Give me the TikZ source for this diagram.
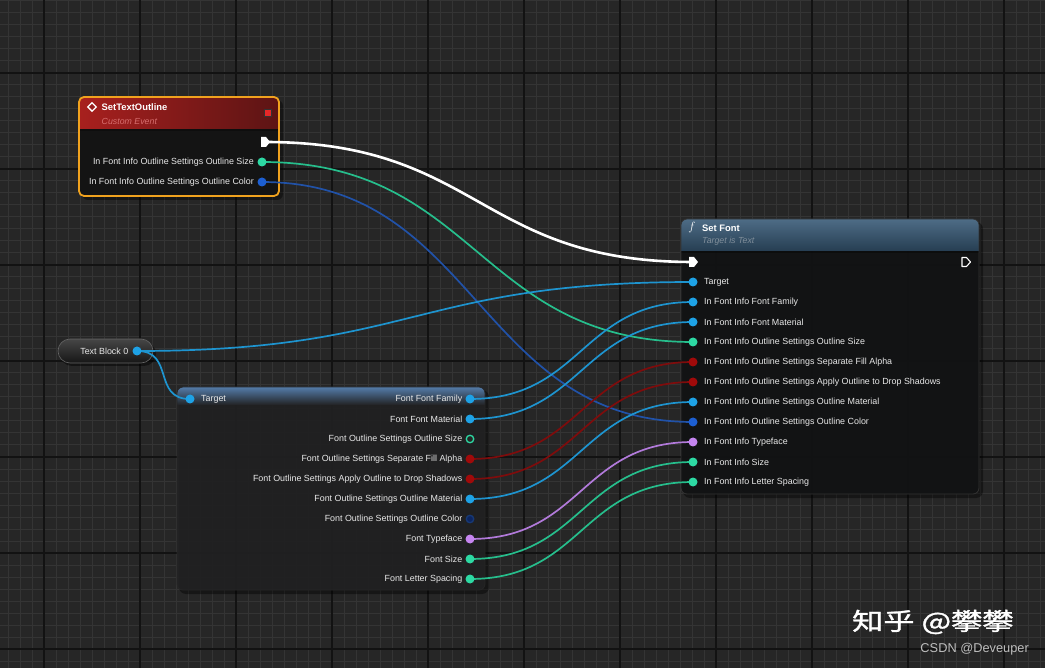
\documentclass[tikz,border=0pt]{standalone}
\usepackage{fontspec}
\setmainfont{Liberation Sans}
\newfontfamily\cjkfont[FakeBold=1.2]{Noto Sans CJK SC}
\usetikzlibrary{calc}
\pgfdeclarelayer{bg}\pgfdeclarelayer{wires}
\pgfsetlayers{bg,wires,main}
\definecolor{bgc}{HTML}{262626}
\definecolor{minorc}{HTML}{343434}
\definecolor{majorc}{HTML}{121212}
\definecolor{objblue}{HTML}{1EA2E6}
\definecolor{objwire}{HTML}{1E94CF}
\definecolor{intgreen}{HTML}{2DD9A3}
\definecolor{intwire}{HTML}{26BE8C}
\definecolor{boolred}{HTML}{A00A0A}
\definecolor{boolwire}{HTML}{7E0C0C}
\definecolor{colblue}{HTML}{1D5FD2}
\definecolor{colwire}{HTML}{2152A8}
\definecolor{lilac}{HTML}{C585F0}
\definecolor{lilacwire}{HTML}{B27ADB}
\definecolor{navy}{HTML}{0C2560}
\definecolor{lbltext}{HTML}{E8E8E8}
\definecolor{selorange}{HTML}{F0A21E}
\tikzset{
  minor/.style={draw=minorc, line width=1pt},
  major/.style={draw=majorc, line width=1.6pt},
  pinc/.style={circle, inner sep=0pt, minimum size=9pt, draw=none},
  lbl/.style={font=\fontsize{8.9}{10}\selectfont, text=lbltext, inner sep=0pt},
  ttl/.style={font=\bfseries\fontsize{9.4}{10}\selectfont, text=white, inner sep=0pt, anchor=west},
  sub/.style={font=\itshape\fontsize{8.8}{10}\selectfont, inner sep=0pt, anchor=west},
  wire/.style={line width=1.7pt},
  execwire/.style={line width=2.6pt, draw=white},
}
\begin{document}
\begin{tikzpicture}[x=1pt,y=-1pt]
\useasboundingbox (0,0) rectangle (1045,668);
\begin{pgfonlayer}{bg}
\fill[bgc] (0,0) rectangle (1045,668);
\foreach \x in {8,20,...,1045} \draw[minor] (\x,0) -- (\x,668);
\foreach \y in {1,13,...,668} \draw[minor] (0,\y) -- (1045,\y);
\foreach \x in {44,140,...,1045} \draw[major] (\x,0) -- (\x,668);
\foreach \y in {73,169,...,668} \draw[major] (0,\y) -- (1045,\y);
% SetTextOutline body
\fill[black, opacity=0.4, rounded corners=6] (82,100) rectangle (283,200);
\fill[fill=black!92!white, rounded corners=5] (79,97) rectangle (279,196);
\begin{scope}
\clip[rounded corners=5] (79,97) rectangle (279,196);
\fill[left color={rgb,255:red,168;green,32;blue,30}, right color={rgb,255:red,92;green,20;blue,20}] (79,97) rectangle (279,129);
\fill[black, opacity=0.25] (79,129) rectangle (279,131);
\end{scope}
\draw[selorange, line width=1.8pt, rounded corners=5] (79,97) rectangle (279,196);
% Set Font body
\fill[black, opacity=0.4, rounded corners=7] (683,222) rectangle (983,498);
\fill[fill={rgb,255:red,18;green,19;blue,20}, opacity=0.93, rounded corners=6] (681,219) rectangle (979,494);
\begin{scope}
\clip[rounded corners=6] (681,219) rectangle (979,494);
\fill[top color={rgb,255:red,78;green,108;blue,134}, bottom color={rgb,255:red,38;green,62;blue,82}] (681,219) rectangle (979,251);
\fill[black, opacity=0.3] (681,251) rectangle (979,253);
\end{scope}
\draw[black!80, line width=0.8pt, rounded corners=6] (681,219) rectangle (979,494);
% Break node body
\fill[black, opacity=0.4, rounded corners=7] (179,390) rectangle (489,594);
\fill[fill={rgb,255:red,34;green,34;blue,35}, opacity=0.9, rounded corners=6] (177,387) rectangle (485,590);
\begin{scope}
\clip[rounded corners=6] (177,387) rectangle (485,590);
\fill[top color={rgb,255:red,84;green,124;blue,170}, bottom color={rgb,255:red,34;green,34;blue,35}] (177,387) rectangle (485,405);
\end{scope}
\draw[black!85, line width=0.8pt, rounded corners=6] (177,387) rectangle (485,590);
% Text Block pill
\fill[black, opacity=0.45, rounded corners=12] (60,342) rectangle (156,366);
\fill[top color={rgb,255:red,70;green,70;blue,70}, bottom color={rgb,255:red,22;green,22;blue,22}, rounded corners=12] (58,339) rectangle (153,363);
\draw[black!60!white, line width=0.6pt, rounded corners=12] (58,339) rectangle (153,363);
\end{pgfonlayer}

% ---- SetTextOutline contents
\node[draw=white, line width=1.4pt, fill={rgb,255:red,150;green,30;blue,30}, inner sep=0pt, rotate=45, minimum width=6pt, minimum height=6pt] (ste-icon) at (92,107) {};
\node[ttl] (ste-title) at (101.5,107.5) {SetTextOutline};
\node[sub, text={rgb,255:red,215;green,110;blue,110}] (ste-sub) at (101.5,121) {Custom Event};
\node[fill={rgb,255:red,230;green,40;blue,40}, draw=black!80, line width=0.6pt, inner sep=0pt, minimum size=6.5pt] (ste-stop) at (268,113) {};
\coordinate (ste-exec) at (265,142);
\fill[white] ($(ste-exec)+(-4,-5)$) -- ++(5,0) -- ++(4,5) -- ++(-4,5) -- ++(-5,0) -- cycle;
\node[pinc, fill=intgreen] (ste-size) at (262,162) {};
\node[pinc, fill=colblue] (ste-color) at (262,182) {};
\node[lbl, anchor=east] (ste-l1) at (254,162) {In Font Info Outline Settings Outline Size};
\node[lbl, anchor=east] (ste-l2) at (254,182) {In Font Info Outline Settings Outline Color};

% ---- Set Font contents
\node[font=\bfseries\itshape\fontsize{12}{12}\selectfont, text=white, inner sep=0pt] (sf-icon) at (692,228) {$f$};
\node[ttl] (sf-title) at (702,228) {Set Font};
\node[sub, text={rgb,255:red,128;green,142;blue,154}] (sf-sub) at (702,241.5) {Target is Text};
\coordinate (sf-exin) at (693,262);
\fill[white] ($(sf-exin)+(-4,-5)$) -- ++(5,0) -- ++(4,5) -- ++(-4,5) -- ++(-5,0) -- cycle;
\coordinate (sf-exout) at (966,262);
\draw[white, line width=1.1pt, line join=round] ($(sf-exout)+(-4,-4.5)$) -- ++(4.5,0) -- ++(4,4.5) -- ++(-4,4.5) -- ++(-4.5,0) -- cycle;
\foreach \y/\n/\c/\t in {
 282/target/objblue/Target,
 302/family/objblue/In Font Info Font Family,
 322/material/objblue/In Font Info Font Material,
 342/osize/intgreen/In Font Info Outline Settings Outline Size,
 362/alpha/boolred/In Font Info Outline Settings Separate Fill Alpha,
 382/drop/boolred/In Font Info Outline Settings Apply Outline to Drop Shadows,
 402/omat/objblue/In Font Info Outline Settings Outline Material,
 422/ocolor/colblue/In Font Info Outline Settings Outline Color,
 442/typeface/lilac/In Font Info Typeface,
 462/size/intgreen/In Font Info Size,
 482/spacing/intgreen/In Font Info Letter Spacing}{
  \node[pinc, fill=\c] (sf-\n) at (693,\y) {};
  \node[lbl, anchor=west] (sf-l-\n) at (704,\y) {\t};
}

% ---- Text Block
\node[lbl, anchor=east] (tb-label) at (128.5,351) {Text Block 0};
\node[pinc, fill=objblue] (tb-out) at (137,351) {};

% ---- Break node
\node[pinc, fill=objblue] (br-target) at (190,399) {};
\node[lbl, anchor=west] (br-l-target) at (201,399) {Target};
\foreach \y/\n/\c/\t in {
 399/family/objblue/Font Font Family,
 419/material/objblue/Font Font Material,
 459/alpha/boolred/Font Outline Settings Separate Fill Alpha,
 479/drop/boolred/Font Outline Settings Apply Outline to Drop Shadows,
 499/omat/objblue/Font Outline Settings Outline Material,
 539/typeface/lilac/Font Typeface,
 559/size/intgreen/Font Size,
 579/spacing/intgreen/Font Letter Spacing}{
  \node[pinc, fill=\c] (br-\n) at (470,\y) {};
  \node[lbl, anchor=east] (br-l-\n) at (462.5,\y) {\t};
}
\node[pinc, draw=intgreen, line width=1.3pt, fill=black!85, minimum size=7.5pt] (br-osize) at (470,439) {};
\node[lbl, anchor=east] (br-l-osize) at (462.5,439) {Font Outline Settings Outline Size};
\node[pinc, draw=colwire!70!black, line width=1.3pt, fill=navy, minimum size=7.5pt] (br-ocolor) at (470,519) {};
\node[lbl, anchor=east] (br-l-ocolor) at (462.5,519) {Font Outline Settings Outline Color};

% ---- Watermark
\node[font=\cjkfont\fontsize{24}{24}\selectfont, text=white, anchor=west, inner sep=0pt] (wm) at (852,622) {\scalebox{1.3}[1]{知乎 @攀攀}};
\node[font=\fontsize{12.8}{13}\selectfont, text={rgb,255:red,190;green,190;blue,190}, anchor=east, inner sep=0pt] (csdn) at (1029,649) {CSDN @Deveuper};

% ---- Wires
\begin{pgfonlayer}{wires}
\draw[execwire] (ste-exec) .. controls +(214,0) and +(-214,0) .. (sf-exin);
\draw[wire, intwire] (ste-size.center) .. controls +(215,0) and +(-215,0) .. (sf-osize.center);
\draw[wire, colwire] (ste-color.center) .. controls +(215,0) and +(-215,0) .. (sf-ocolor.center);
\draw[wire, objwire] (tb-out.center) .. controls +(278,0) and +(-278,0) .. (sf-target.center);
\draw[wire, objwire] (tb-out.center) .. controls +(38,0) and +(-38,0) .. (br-target.center);
\draw[wire, objwire] (br-family.center) .. controls +(112,0) and +(-112,0) .. (sf-family.center);
\draw[wire, objwire] (br-material.center) .. controls +(112,0) and +(-112,0) .. (sf-material.center);
\draw[wire, boolwire] (br-alpha.center) .. controls +(112,0) and +(-112,0) .. (sf-alpha.center);
\draw[wire, boolwire] (br-drop.center) .. controls +(112,0) and +(-112,0) .. (sf-drop.center);
\draw[wire, objwire] (br-omat.center) .. controls +(112,0) and +(-112,0) .. (sf-omat.center);
\draw[wire, lilacwire] (br-typeface.center) .. controls +(112,0) and +(-112,0) .. (sf-typeface.center);
\draw[wire, intwire] (br-size.center) .. controls +(112,0) and +(-112,0) .. (sf-size.center);
\draw[wire, intwire] (br-spacing.center) .. controls +(112,0) and +(-112,0) .. (sf-spacing.center);
\end{pgfonlayer}
\end{tikzpicture}
\end{document}
